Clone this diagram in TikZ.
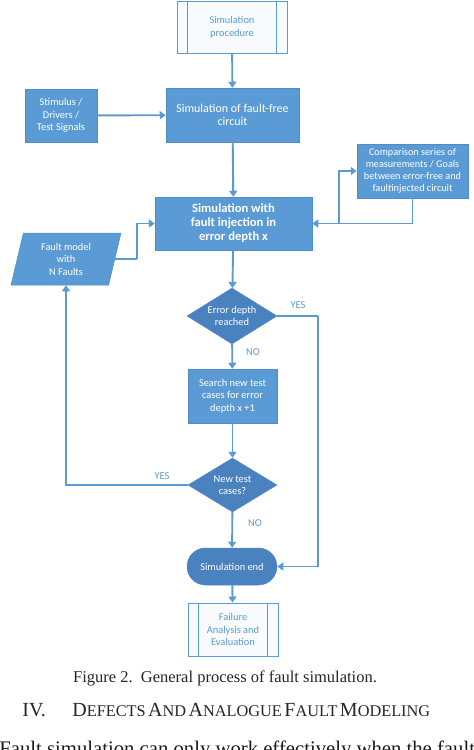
\documentclass[tikz,border=0pt]{standalone}
\usepackage{fontspec}
\setmainfont{Liberation Serif}
\newfontfamily\calibrifont{Carlito}
\usetikzlibrary{arrows.meta,shapes.geometric}

\definecolor{officeblue}{RGB}{91,155,213}
\definecolor{decisionblue}{RGB}{74,130,192}
\definecolor{edgeblue}{RGB}{80,140,200}

\newcommand{\capword}[2]{{\fontsize{20}{24}\selectfont #1}{\fontsize{16.3}{18}\selectfont #2}}

\tikzset{every picture/.style={line width=0.75pt}}
\tikzset{
	flowbox/.style={rectangle, draw=edgeblue, line width=0.5pt, fill=officeblue, text=white, align=center, inner sep=0pt, font=\calibrifont\fontsize{10.4}{12.5}\selectfont},
	procbox/.style={rectangle, draw=officeblue, line width=1pt, fill=officeblue!4, text=officeblue, align=center, inner sep=0pt, font=\calibrifont\fontsize{10.4}{12.5}\selectfont},
	decision/.style={diamond, shape aspect=1.6, draw=edgeblue, line width=0.5pt, fill=decisionblue, text=white, align=center, inner sep=-3pt, font=\calibrifont\fontsize{10.4}{12.5}\selectfont},
	conn/.style={draw=officeblue, line width=1.9pt, -{Triangle[width=8pt,length=6pt]}},
	plainline/.style={draw=officeblue, line width=1.9pt},
	branchlabel/.style={text=officeblue, inner sep=0pt, font=\calibrifont\fontsize{10.5}{12}\selectfont}
}

\begin{document}
\begin{tikzpicture}[x=1pt,y=1pt,yscale=-1,xscale=1]
	\useasboundingbox (0,0) rectangle (474,750);
	\clip (0,0) rectangle (474,750);
	%Predefined process [id:proc]
	\node [procbox, minimum width=110, minimum height=52] (proc) at (232,27) {Simulation\\procedure};
	\draw [officeblue, line width=1pt] ([xshift=11pt]proc.north west) -- ([xshift=11pt]proc.south west);
	\draw [officeblue, line width=1pt] ([xshift=-11pt]proc.north east) -- ([xshift=-11pt]proc.south east);
	%Process boxes
	\node [flowbox, minimum width=133, minimum height=54, font=\calibrifont\fontsize{12}{13.5}\selectfont] (free) at (232.5,115) {Simulation of fault-free\\circuit};
	\node [flowbox, minimum width=72, minimum height=53] (stim) at (61,115.5) {Stimulus /\\Drivers /\\Test Signals};
	\node [flowbox, minimum width=157, minimum height=53, font=\calibrifont\bfseries\fontsize{12.6}{14}\selectfont] (inj) at (233.5,223.5) {Simulation with\\fault injection in\\error depth x};
	\node [flowbox, minimum width=111, minimum height=54, font=\calibrifont\fontsize{10.2}{12}\selectfont] (cmp) at (412.5,171) {Comparison series of\\measurements / Goals\\between error-free and\\faultinjected circuit};
	%Data (parallelogram)
	\node [flowbox, trapezium, trapezium left angle=69, trapezium right angle=111, trapezium stretches body, minimum width=110, minimum height=52] (fmodel) at (66,259) {Fault model\\with\\N Faults};
	%Decisions
	\node [decision, minimum width=90, minimum height=56] (dreach) at (232,316) {Error depth\\reached};
	\node [flowbox, minimum width=89, minimum height=54] (search) at (232.5,396) {Search new test\\cases for error\\depth x +1};
	\node [decision, minimum width=89, minimum height=54] (dnew) at (232.5,485) {New test\\cases?};
	%Terminator
	\node [flowbox, fill=decisionblue, rounded corners=18.5pt, minimum width=90, minimum height=37] (send) at (232,566.5) {Simulation end};
	%Predefined process [id:fail]
	\node [procbox, minimum width=90, minimum height=53] (fail) at (233,629.5) {Failure\\Analysis and\\Evaluation};
	\draw [officeblue, line width=1pt] ([xshift=11pt]fail.north west) -- ([xshift=11pt]fail.south west);
	\draw [officeblue, line width=1pt] ([xshift=-11pt]fail.north east) -- ([xshift=-11pt]fail.south east);

	%Bend points
	\coordinate (fbend) at (137,259);
	\coordinate (cbranch) at (339,223.5);
	\coordinate (ybend) at (318,316);

	%Connectors
	\draw [conn] (proc) -- (free);
	\draw [conn] (stim) -- (free);
	\draw [conn] (free) -- (inj);
	\draw [plainline] (fmodel.east) -- (fbend);
	\draw [conn] (fbend) |- (inj.west);
	\draw [conn] (cmp.south) |- (inj.east);
	\draw [conn] (cbranch) |- (cmp.west);
	\draw [conn] (inj) -- (dreach);
	\draw [plainline] (dreach.east) -- (ybend);
	\draw [conn] (ybend) |- (send.east);
	\draw [conn] (dreach) -- (search);
	\draw [conn] (search) -- (dnew);
	\draw [conn] (dnew.west) -| (fmodel.south);
	\draw [conn] (dnew) -- (send);
	\draw [conn] (send) -- (fail);

	% Text Node
	\node [branchlabel] (yesreach) at (298,305) {YES};
	\node [branchlabel] (noreach) at (253,352) {NO};
	\node [branchlabel] (yesnew) at (162,476) {YES};
	\node [branchlabel] (nonew) at (255,523) {NO};

	% Text Node
	\node [anchor=base, inner sep=0pt, text=black!85, font=\fontsize{16.5}{18}\selectfont] (caption) at (225,682) {Figure 2.\ \ General process of fault simulation.};
	\node [anchor=base west, inner sep=0pt, text=black!85, font=\fontsize{20}{24}\selectfont] (secnum) at (22,716) {IV.};
	\node [anchor=base west, inner sep=0pt, text=black!85] (sechead) at (72,716) {\capword{D}{EFECTS} \capword{A}{ND} \capword{A}{NALOGUE} \capword{F}{AULT} \capword{M}{ODELING}};
	\node [anchor=base west, inner sep=0pt, text=black!90, font=\fontsize{20.7}{24}\selectfont] (bodyline) at (-1,755) {Fault simulation can only work effectively when the fault};
\end{tikzpicture}
\end{document}
